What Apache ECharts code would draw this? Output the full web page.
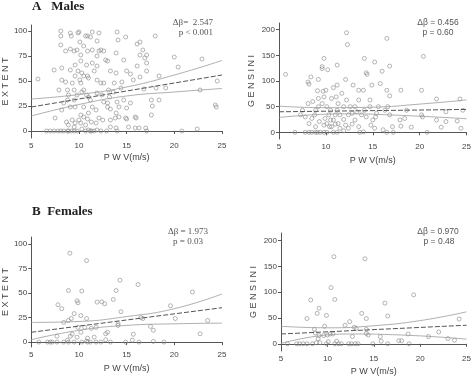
<!DOCTYPE html>
<html><head><meta charset="utf-8">
<script src="https://cdn.jsdelivr.net/npm/echarts@6/dist/echarts.min.js"></script>
<style>html,body{margin:0;padding:0;background:#fff}#c{width:474px;height:379px}</style>
</head><body><div id="c"></div>
<script>
// ---- data ----
const xTicks = [5, 10, 15, 20, 25];
const extentTicks = [0, 25, 50, 75, 100];
const gensiniTicks = [0, 50, 100, 150, 200];

const maleExtentPts = [
[5.7,52],[7.4,61],[8.1,100],[8.1,95],[8.1,86],[8.2,63],[8.6,80],[9.1,98],[9.2,95],[9.1,82],[9.5,80],[9.9,98],[10,99],[10.1,89],[9.8,81],[10.2,76],[10.7,95],[10.9,95],[11.2,94],[11.4,99],[12.1,98],[11.9,90],[11.4,81],[10.9,80],[12.3,81],[12.1,80],[12.8,71],[13,70],[14,99],[14.1,91],[14.9,94],[13.9,78],[14.7,71],[16.1,87],[16.4,89],[16.7,81],[16.4,76],[16.9,73],[17.1,76],[18,95],[20,74],[22.9,72],[20.4,64],[17.1,68],[16.1,65],[15,60],[15.4,57],[13.9,58],[13.3,60],[17.1,60],[18.4,55],[15.7,51],[16.4,54],[24.5,50],[18.1,43],[19.1,43],[16.8,42],[22.7,41],[17.6,31],[18.4,31],[17.7,25],[17.6,16],[24.3,26],[24.4,24],[14.7,31],[15.4,28],[15,23],[14.2,24],[14.9,13],[15,12],[15.9,14],[16,13],[15.2,4],[15.9,3],[16.3,3],[17,3],[17.1,0],[20.8,0],[22.4,2],[14,0],[13.9,3],[13.3,4],[12.9,0],[12.3,0],[11.9,1],[11.6,0],[11.3,0],[11.2,0],[11,1],[10.7,0],[10.3,2],[9.8,0],[9.5,0],[9.2,0],[8.9,0],[8.8,0],[8.4,0],[8.1,0],[7.8,0],[7.4,0],[6.6,0],[7,0],
[7.5,13],[8.2,21],[8.4,28],[8.8,31],[8.9,36],[8.8,41],[8.2,51],[8.6,49],[7.9,41],[9.3,48],[9.1,61],[9.6,55],[9.9,60],[10.3,58],[10.1,51],[10.2,48],[10.5,55],[10.9,55],[11,53],[11.4,68],[11.6,60],[11.9,51],[12.3,48],[12.6,48],[10.5,41],[10.3,39],[10.8,36],[11,34],[11.2,31],[11.9,38],[12.4,36],[12.6,29],[13,28],[13.2,34],[13,24],[13.3,22],[11.4,24],[11.8,21],[11,18],[10.5,24],[10.2,16],[10.5,14],[10,11],[9.6,8],[9.5,4],[9.3,11],[8.9,6],[8.7,9],[10.2,8],[10.7,6],[10.9,12],[11.3,9],[11.8,8],[12.1,13],[12.5,11],[13.3,11],[13.8,13],[13.9,18],[14.2,14],[14,29],[13.6,39],[13.1,41],[14.4,43],[14.5,49],[13.7,48],[11.9,65],[10.8,66],[10.2,70],[9.6,66],[9.5,41],[9.8,36],[9.5,31],[9.1,24],[9.6,24],[11.9,75],[12.6,80],[10.5,85]
];
const maleExtentFit = [[5,24],[25,56]];
const maleExtentUpper = [[5,32],[10,36.5],[15,44],[20,56],[25,70.5]];
const maleExtentLower = [[5,15],[10,26.5],[15,35],[20,39],[25,42.5]];

const maleGensiniPts = [
[5.7,113],[9.8,144],[9.6,128],[9.6,124],[10.2,122],[12.2,194],[12.3,171],[11.2,131],[14.1,144],[14.3,116],[14.4,113],[15.2,137],[16.5,183],[16.8,129],[16,119],[20.4,148],[15.8,95],[14.9,92],[20.2,82],[18,82],[16.5,82],[16.8,71],[14,82],[13.5,82],[12.9,92],[12.1,103],[11.2,92],[10.8,87],[10,82],[9.7,80],[9.1,81],[9.2,103],[8.4,108],[8.1,98],[8.2,94],[21.8,65],[24.3,65],[24.6,43],[22.8,40],[20.2,34],[20.3,30],[21.8,24],[22.8,21],[24,22],[22.3,10],[24.4,8],[20.8,0],[19.1,10],[18,12],[17.9,24],[17.1,11],[17.2,0],[16.5,0],[16.1,5],[16.8,34],[16.3,43],[15.4,37],[15.3,30],[15,24],[14.8,14],[15.2,8],[14.3,30],[14.1,43],[14.7,63],[14,1],[13.6,0],[13.5,11],[13.1,24],[12.8,37],[12.6,50],[12.2,63],[11.9,50],[11.7,76],[11.3,56],[11.2,43],[11,34],[10.8,24],[11.3,17],[11.5,8],[11.9,3],[12.4,8],[12.8,16],[12.1,14],[11.2,0],[10.8,0],[10.1,0],[9.8,0],[9.4,0],[9.1,0],[8.9,0],[8.5,0],[8.2,0],[7.8,0],[6.7,0],[10.4,11],[10.1,17],[9.9,27],[10.3,34],[10.5,43],[10.1,50],[9.6,56],[9.2,50],[8.9,43],[8.8,34],[8.5,27],[8.2,17],[7.8,30],[7.5,43],[7.3,34],[8.1,56],[8.6,60],[9.2,66],[9.8,69],[10.6,66],[11.1,69],[10.6,11],[11,16],[9.8,14],[9.3,21],[8.9,11],[10.5,24],[11.5,34],[11.9,25],[12.4,34],[13.1,50],[13.5,63],[13.8,34],[13.3,40],[14.7,50],[15.6,50],[16.6,50],[18.4,27],[18.6,43]
];
const maleGensiniFit = [[5,40],[25,44.6]];
const maleGensiniUpper = [[5,51],[10,48],[15,49],[20,55],[25,63]];
const maleGensiniLower = [[5,29],[12,36],[18,33],[25,26.5]];

const femaleExtentPts = [
[9.05,90.5],[10.8,83],[8.9,52.5],[10.3,52],[13.9,52.5],[14.3,63],[16.2,58.6],[21.9,51],[7.8,38],[8.2,34],[9.8,42],[9.9,40],[11.9,40.7],[12.4,41],[12.7,39],[13.6,43.4],[19.6,37],[9.5,29],[10.2,27],[10.8,24],[8.4,20],[8.9,22],[9.2,24],[9.9,15],[10.6,15],[11.8,15],[14.1,18.6],[14.1,17],[14.4,31],[16.5,25],[16.7,24],[17.5,16],[17.8,12],[20.1,24],[22.7,8.5],[23.5,22],[7.7,6],[9.1,6],[9.3,8],[10.2,10],[10.9,4],[10.8,1],[12.8,8.5],[13,10],[12.8,2.4],[15.7,8],[15.6,2],[17.8,0.7],[14.9,0],[16.3,0],[18.9,0],[13.3,0],[12.3,0],[11.8,0],[11.2,0],[10.9,0],[10.3,0],[9.5,0],[8.9,0],[8.8,2],[8.4,0],[7.7,0],[7.2,0],[7,0],[6.7,0],[5.8,0],[9.8,5],[11.6,5],[11.3,14]
];
const femaleExtentFit = [[5,10],[25,35]];
const femaleExtentUpper = [[5,20],[10,21],[15,26],[20,34],[25,49]];
const femaleExtentLower = [[5,2.4],[10,12],[15,17],[20,18.6],[25,19.3]];

const femaleGensiniPts = [
[10.7,169],[14.05,165],[10.4,109],[10.8,86],[8.2,85],[19.3,95],[16.2,79],[9.1,69],[8.9,59],[13.7,59],[9.9,55],[16.5,54],[7.8,49],[14.2,49],[24.2,48],[12.4,43],[11.9,36],[9.7,34],[12.9,32],[13.1,30],[14.2,28],[8.6,28],[8.7,21],[22,23],[18.7,19],[9.1,16],[9.6,16],[10,17],[10.3,19],[10.6,19],[14.2,20],[14.4,17],[15.7,14],[12.7,14],[23,10],[23.7,7],[9,10],[10.1,4],[11,5],[15.8,5],[5.7,0],[6.7,0],[7,0],[7.4,0],[7.8,0],[8.4,0],[8.8,2],[9.2,2],[9.9,0],[10.8,0],[11.2,0],[11.5,0],[12.3,0],[12.6,0],[13,0],[13.3,0],[14.9,0],[16.5,0],[17.7,6],[18,6],[18.8,0],[20.9,14]
];
const femaleGensiniFit = [[5,19],[25,36]];
const femaleGensiniUpper = [[5,34],[10,31],[15,35],[20,45],[25,62]];
const femaleGensiniLower = [[5,0.6],[12,19],[18,17],[25,9]];

// ---- chart ----
const chart = echarts.init(document.getElementById('c'), null, {renderer: 'canvas'});
const AX = '#555', LBL = '#444';
const grids = [
  {left: 31, top: 25, width: 191, height: 113},
  {left: 279, top: 23, width: 189, height: 116},
  {left: 31, top: 237, width: 191, height: 110},
  {left: 281, top: 233, width: 186, height: 118}
];
const yInfo = [
  {min: -7, max: 106, ticks: extentTicks, name: 'E X T E N T', gap: 21},
  {min: -13, max: 213, ticks: gensiniTicks, name: 'G E N S I N I', gap: 23},
  {min: -5, max: 107, ticks: extentTicks, name: 'E X T E N T', gap: 21},
  {min: -14, max: 215, ticks: gensiniTicks, name: 'G E N S I N I', gap: 23}
];
const xGaps = [15, 17, 17, 16];
const font = 'Liberation Sans, Arial, sans-serif';
const xAxes = grids.map((g, i) => ({
  gridIndex: i, type: 'value', min: 5, max: 25, interval: 5,
  name: 'P W V(m/s)', nameLocation: 'middle', nameGap: xGaps[i],
  nameTextStyle: {color: LBL, fontSize: 9, fontFamily: font},
  axisLine: {lineStyle: {color: AX, width: 1}},
  axisTick: {show: true, length: 3, lineStyle: {color: AX}},
  axisLabel: {color: LBL, fontSize: 8, fontFamily: font, margin: 4},
  splitLine: {show: false}
}));
const yAxes = yInfo.map((y, i) => ({
  gridIndex: i, type: 'value', min: y.min, max: y.max,
  name: y.name, nameLocation: 'middle', nameGap: y.gap, nameRotate: 90,
  nameTextStyle: {color: LBL, fontSize: 9, fontFamily: font},
  axisLine: {show: true, lineStyle: {color: AX, width: 1}},
  axisTick: {show: true, length: 3, lineStyle: {color: AX}, customValues: y.ticks},
  axisLabel: {color: LBL, fontSize: 8, fontFamily: font, margin: 4, customValues: y.ticks},
  splitLine: {show: false}
}));
const pts = [maleExtentPts, maleGensiniPts, femaleExtentPts, femaleGensiniPts];
const fits = [maleExtentFit, maleGensiniFit, femaleExtentFit, femaleGensiniFit];
const ups = [maleExtentUpper, maleGensiniUpper, femaleExtentUpper, femaleGensiniUpper];
const lows = [maleExtentLower, maleGensiniLower, femaleExtentLower, femaleGensiniLower];
const series = [];
for (let i = 0; i < 4; i++) {
  series.push({type: 'scatter', xAxisIndex: i, yAxisIndex: i, data: pts[i], symbol: 'circle', symbolSize: 4,
    itemStyle: {color: 'rgba(255,255,255,0)', borderColor: '#8a8a8a', borderWidth: 0.8}, silent: true});
  series.push({type: 'line', xAxisIndex: i, yAxisIndex: i, data: ups[i], smooth: true, showSymbol: false,
    lineStyle: {color: '#9a9a9a', width: 0.8}, silent: true});
  series.push({type: 'line', xAxisIndex: i, yAxisIndex: i, data: lows[i], smooth: true, showSymbol: false,
    lineStyle: {color: '#9a9a9a', width: 0.8}, silent: true});
  series.push({type: 'line', xAxisIndex: i, yAxisIndex: i, data: fits[i], showSymbol: false,
    lineStyle: {color: '#555', width: 1, type: [5, 2]}, silent: true});
}
const serif = 'Liberation Serif, Times New Roman, serif';
function txt(x, y, s, opts) {
  return Object.assign({type: 'text', x: x, y: y, style: Object.assign({text: s, fill: '#555', fontSize: 9, fontFamily: serif, textVerticalAlign: 'middle'}, opts || {})});
}
const graphic = [
  txt(32, 7, 'A   Males', {fill: '#222', fontSize: 13, fontWeight: 'bold', textAlign: 'left'}),
  txt(32, 212, 'B  Females', {fill: '#222', fontSize: 13, fontWeight: 'bold', textAlign: 'left'}),
  txt(213, 23, 'Δβ=  2.547', {textAlign: 'right'}),
  txt(213, 33, 'p < 0.001', {textAlign: 'right'}),
  txt(438, 23, 'Δβ = 0.456', {textAlign: 'center', fontFamily: font, fontSize: 8.5}),
  txt(438, 33, 'p = 0.60', {textAlign: 'center', fontFamily: font, fontSize: 8.5}),
  txt(188, 232, 'Δβ = 1.973', {textAlign: 'center'}),
  txt(188, 242, 'p = 0.03', {textAlign: 'center'}),
  txt(438, 232, 'Δβ = 0.970', {textAlign: 'center', fontFamily: font, fontSize: 8.5}),
  txt(439, 242, 'p = 0.48', {textAlign: 'center', fontFamily: font, fontSize: 8.5})
];
chart.setOption({
  animation: false, backgroundColor: '#fff',
  grid: grids, xAxis: xAxes, yAxis: yAxes, series: series, graphic: graphic
});
</script></body></html>
